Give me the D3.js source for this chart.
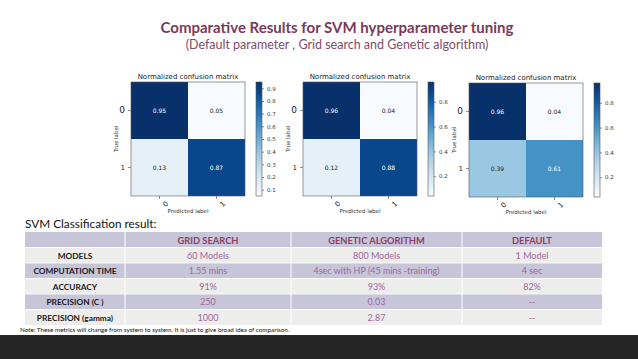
<!DOCTYPE html>
<html>
<head>
<meta charset="utf-8">
<script src="https://cdn.jsdelivr.net/npm/d3@7"></script>
<style>
  body { margin: 0; background: #fff; }
  svg { display: block; }
  .cm text { font-family: "DejaVu Sans", sans-serif; }
  .axis path, .axis line { stroke: #444; stroke-width: 0.6; }
</style>
</head>
<body>
<svg width="638" height="359"></svg>
<script>
// confusion matrices (rows = true label, cols = predicted label)
var labels = ["0", "1"];
var matGrid = [[0.95, 0.05], [0.13, 0.87]];
var matGenetic = [[0.96, 0.04], [0.12, 0.88]];
var matDefault = [[0.96, 0.04], [0.39, 0.61]];
var barTicks1 = [0.1, 0.2, 0.3, 0.4, 0.5, 0.6, 0.7, 0.8, 0.9];
var barTicks2 = [0.2, 0.4, 0.6, 0.8];

// results table
var headers = ["", "GRID SEARCH", "GENETIC ALGORITHM", "DEFAULT"];
var rowNames = ["MODELS", "COMPUTATION TIME", "ACCURACY", "PRECISION (C )", "PRECISION (gamma)"];
var gridVals = ["60 Models", "1.55 mins", "91%", "250", "1000"];
var geneticVals = ["800 Models", "4sec with HP (45 mins -training)", "93%", "0.03", "2.87"];
var defaultVals = ["1 Model", "4 sec", "82%", "--", "--"];

var svg = d3.select("svg");

svg.append("text")
  .attr("x", 337).attr("y", 33)
  .attr("text-anchor", "middle")
  .style("font-family", "Lato, sans-serif").style("font-weight", "bold")
  .style("font-size", "15px").style("fill", "#7a3a5b")
  .text("Comparative Results for SVM hyperparameter tuning");

svg.append("text")
  .attr("x", 337).attr("y", 49)
  .attr("text-anchor", "middle")
  .style("font-family", "Lato, sans-serif")
  .style("font-size", "12.5px").style("fill", "#7e4c6a")
  .text("(Default parameter , Grid search and Genetic algorithm)");

function drawMatrix(mat, left, top, ticks) {
  var size = 114;
  var g = svg.append("g").attr("class", "cm")
    .attr("transform", "translate(" + left + "," + top + ")");

  var x = d3.scaleBand().domain(labels).range([0, size]);
  var y = d3.scaleBand().domain(labels).range([0, size]);
  var flat = [];
  mat.forEach(function(row, i) {
    row.forEach(function(v, j) { flat.push({r: labels[i], c: labels[j], v: v}); });
  });
  var lo = d3.min(flat, function(d) { return d.v; }),
    hi = d3.max(flat, function(d) { return d.v; });
  var color = d3.scaleSequential(d3.interpolateBlues).domain([lo, hi]);

  g.selectAll("rect.cell")
    .data(flat)
    .enter().append("rect")
    .attr("class", "cell")
    .attr("x", function(d) { return x(d.c); })
    .attr("y", function(d) { return y(d.r); })
    .attr("width", x.bandwidth())
    .attr("height", y.bandwidth())
    .attr("fill", function(d) { return color(d.v); });

  g.selectAll("text.val")
    .data(flat)
    .enter().append("text")
    .attr("class", "val")
    .attr("x", function(d) { return x(d.c) + x.bandwidth() / 2; })
    .attr("y", function(d) { return y(d.r) + y.bandwidth() / 2 + 2; })
    .attr("text-anchor", "middle")
    .style("font-size", "6px")
    .style("fill", function(d) { return d.v > (hi + lo) / 2 ? "#fff" : "#222"; })
    .text(function(d) { return d.v.toFixed(2); });

  g.append("rect")
    .attr("width", size).attr("height", size)
    .attr("fill", "none").attr("stroke", "#555").attr("stroke-width", 0.6);

  g.append("g")
    .attr("class", "axis")
    .call(d3.axisLeft(y).tickSize(3).tickSizeOuter(0))
    .call(function(a) { a.select(".domain").remove(); })
    .selectAll("text")
    .style("font-size", "7px").style("fill", "#222");
  g.select(".axis").selectAll(".tick:first-of-type text").style("font-size", "9px");

  g.append("g")
    .attr("class", "axis")
    .attr("transform", "translate(0," + size + ")")
    .call(d3.axisBottom(x).tickSize(3).tickSizeOuter(0))
    .call(function(a) { a.select(".domain").remove(); })
    .selectAll("text")
    .attr("transform", "rotate(-45)")
    .attr("dy", "0.9em").attr("dx", "-0.2em")
    .style("font-size", "7px").style("fill", "#222");

  g.append("text")
    .attr("x", size / 2).attr("y", -3)
    .attr("text-anchor", "middle")
    .style("font-size", "7px").style("fill", "#222")
    .text("Normalized confusion matrix");

  g.append("text")
    .attr("x", size / 2).attr("y", size + 17)
    .attr("text-anchor", "middle")
    .style("font-size", "5.5px").style("fill", "#333")
    .text("Predicted label");

  g.append("text")
    .attr("transform", "translate(-13," + size / 2 + ") rotate(-90)")
    .attr("text-anchor", "middle")
    .style("font-size", "5.5px").style("fill", "#333")
    .text("True label");

  // colorbar
  var cbx = size + 11, cbw = 6;
  var cy = d3.scaleLinear().domain([lo, hi]).range([size, 0]);
  var gradId = "grad" + left;
  var grad = svg.append("defs").append("linearGradient")
    .attr("id", gradId).attr("x1", 0).attr("y1", 1).attr("x2", 0).attr("y2", 0);
  d3.range(0, 1.0001, 0.1).forEach(function(t) {
    grad.append("stop").attr("offset", t).attr("stop-color", color(lo + t * (hi - lo)));
  });
  g.append("rect")
    .attr("x", cbx).attr("width", cbw).attr("height", size)
    .attr("fill", "url(#" + gradId + ")")
    .attr("stroke", "#555").attr("stroke-width", 0.6);
  g.append("g")
    .attr("class", "axis")
    .attr("transform", "translate(" + (cbx + cbw) + ",0)")
    .call(d3.axisRight(cy).tickValues(ticks).tickSize(2).tickFormat(d3.format(".1f")))
    .call(function(a) { a.select(".domain").remove(); })
    .selectAll("text")
    .style("font-size", "5.5px").style("fill", "#333");
}

drawMatrix(matGrid, 131, 82, barTicks1);
drawMatrix(matGenetic, 303, 82, barTicks2);
drawMatrix(matDefault, 469, 83, barTicks2);

// table
svg.append("text")
  .attr("x", 25).attr("y", 228)
  .style("font-family", "Lato, sans-serif")
  .style("font-size", "11.8px").style("fill", "#111")
  .text("SVM Classification result:");

var colEdges = [25, 125, 291, 462, 602];
var rows = d3.range(rowNames.length + 1);
var ry = d3.scaleBand().domain(rows).range([232, 325]);
var tbl = svg.append("g");

tbl.selectAll("rect.row")
  .data(rows)
  .enter().append("rect")
  .attr("x", colEdges[0])
  .attr("y", function(d) { return ry(d); })
  .attr("width", colEdges[4] - colEdges[0])
  .attr("height", ry.bandwidth())
  .attr("fill", function(d) { return d % 2 === 0 ? "#c7c6d8" : "#ededec"; });

tbl.selectAll("line.sep")
  .data(colEdges.slice(1, 4))
  .enter().append("line")
  .attr("x1", function(d) { return d; }).attr("x2", function(d) { return d; })
  .attr("y1", 232).attr("y2", 325)
  .attr("stroke", "#fff").attr("stroke-width", 1);

tbl.selectAll("line.hsep")
  .data(rows.slice(1))
  .enter().append("line")
  .attr("x1", colEdges[0]).attr("x2", colEdges[4])
  .attr("y1", function(d) { return ry(d); }).attr("y2", function(d) { return ry(d); })
  .attr("stroke", "#fff").attr("stroke-width", 0.8);

function colMid(i) { return (colEdges[i] + colEdges[i + 1]) / 2; }

tbl.selectAll("text.hdr")
  .data(headers)
  .enter().append("text")
  .attr("x", function(d, i) { return colMid(i); })
  .attr("y", ry(0) + ry.bandwidth() / 2 + 4)
  .attr("text-anchor", "middle")
  .style("font-family", "Lato, sans-serif").style("font-weight", "bold")
  .style("font-size", "9.3px").style("fill", "#8b3f67")
  .text(function(d) { return d; });

var cols = [rowNames, gridVals, geneticVals, defaultVals];
cols.forEach(function(vals, c) {
  tbl.selectAll("text.c" + c)
    .data(vals)
    .enter().append("text")
    .attr("x", colMid(c))
    .attr("y", function(d, i) { return ry(i + 1) + ry.bandwidth() / 2 + 3.5; })
    .attr("text-anchor", "middle")
    .style("font-family", "Lato, sans-serif")
    .style("font-weight", c === 0 ? "bold" : "normal")
    .style("font-size", c === 0 ? "8.3px" : "9px")
    .style("fill", c === 0 ? "#1a1a1a" : "#a0669a")
    .text(function(d) { return d; });
});

svg.append("text")
  .attr("x", 20).attr("y", 332)
  .style("font-family", "Lato, sans-serif")
  .style("font-size", "6.3px").style("fill", "#111")
  .text("Note: These metrics will change from system to system. It is just to give broad idea of comparison.");

svg.append("rect")
  .attr("x", 0).attr("y", 335).attr("width", 638).attr("height", 24)
  .attr("fill", "#262626");
</script>
</body>
</html>
